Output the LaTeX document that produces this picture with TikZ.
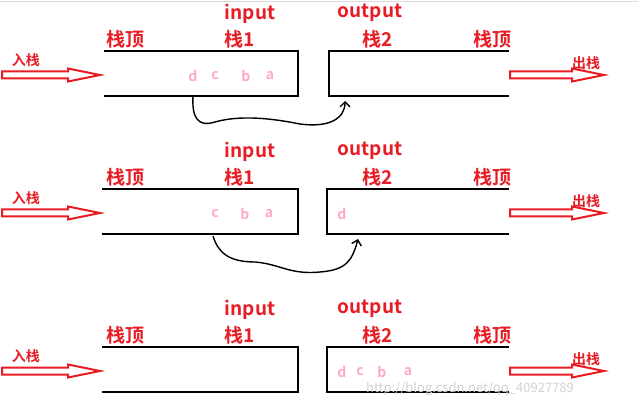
\documentclass[tikz,border=0pt]{standalone}
\usepackage{fontspec}
\usetikzlibrary{arrows.meta}
\setmainfont{Noto Sans CJK SC}[BoldFont={Noto Sans CJK SC Bold}]
\definecolor{myred}{RGB}{232,28,36}
\definecolor{mypink}{RGB}{255,170,195}
\begin{document}
\begin{tikzpicture}[x=1pt,y=-1pt,
  lbl/.style={text=myred,font=\bfseries\fontsize{19}{19}\selectfont,inner sep=0},
  sml/.style={text=myred,font=\bfseries\fontsize{14}{14}\selectfont,inner sep=0},
  let/.style={text=mypink,font=\bfseries\fontsize{14}{14}\selectfont,inner sep=0},
  wall/.style={line width=2.5pt,black},
  harrow/.style={draw=myred,line width=2pt,fill=white,line join=miter},
  move/.style={line width=1.4pt,black,-{Straight Barb[length=5pt,width=10pt]}}]
\useasboundingbox[fill=white] (0,0) rectangle (638,409);
\draw[gray!30] (0,1) -- (638,1);
\newcommand\hollow[3]{% x0,x1,y
  \draw[harrow] (#1,#3-3.5) -- (#2-32,#3-3.5) -- (#2-32,#3-6.5) -- (#2,#3) -- (#2-32,#3+6.5) -- (#2-32,#3+3.5) -- (#1,#3+3.5) -- cycle;}
\foreach \o/\l/\r in {0/104/329, 138/102/327, 296/102/327}{
  \draw[wall] (\l,51+\o) -- (298,51+\o) -- (298,96+\o) -- (\l,96+\o);
  \draw[wall] (509,51+\o) -- (\r,51+\o) -- (\r,96+\o) -- (509,96+\o);
  \node[lbl] at (250,14+\o) {input};
  \node[lbl] at (370,13+\o) {output};
  \node[lbl] at (125,39+\o) {栈顶};
  \node[lbl] at (240,39+\o) {栈1};
  \node[lbl] at (378,39+\o) {栈2};
  \node[lbl] at (492,39+\o) {栈顶};
  \node[sml] at (26,60+\o) {入栈};
  \node[sml] at (586,63+\o) {出栈};
  \hollow{2}{100}{75+\o}
  \hollow{510}{604}{75+\o}
}
% row 1
\node[let] (d1) at (193,76) {d};
\node[let] at (215,76) {c};
\node[let] at (246,76) {b};
\node[let] at (270,76) {a};
\coordinate (s1) at (193,96);
\coordinate (e1) at (345,101);
\draw[move] (s1) .. controls (192,115) and (196,128) .. (215,122) .. controls (240,115) and (270,118) .. (300,124) .. controls (330,128) and (345,118) .. (e1);
% row 2
\node[let] at (215,214) {c};
\node[let] at (245,214) {b};
\node[let] at (269,214) {a};
\node[let] at (342,214) {d};
\coordinate (s2) at (213,236);
\coordinate (e2) at (358,239);
\draw[move] (s2) .. controls (218,252) and (228,262) .. (255,262) .. controls (280,264) and (290,275) .. (320,272) .. controls (345,270) and (352,262) .. (e2);
% row 3
\node[let] at (342,372) {d};
\node[let] at (360,372) {c};
\node[let] at (382,372) {b};
\node[let] at (408,372) {a};
\node[text=gray!35,font=\fontsize{13}{13}\selectfont,inner sep=0] at (470,389) {http://blog.csdn.net/qq\_40927789};
\end{tikzpicture}
\end{document}
